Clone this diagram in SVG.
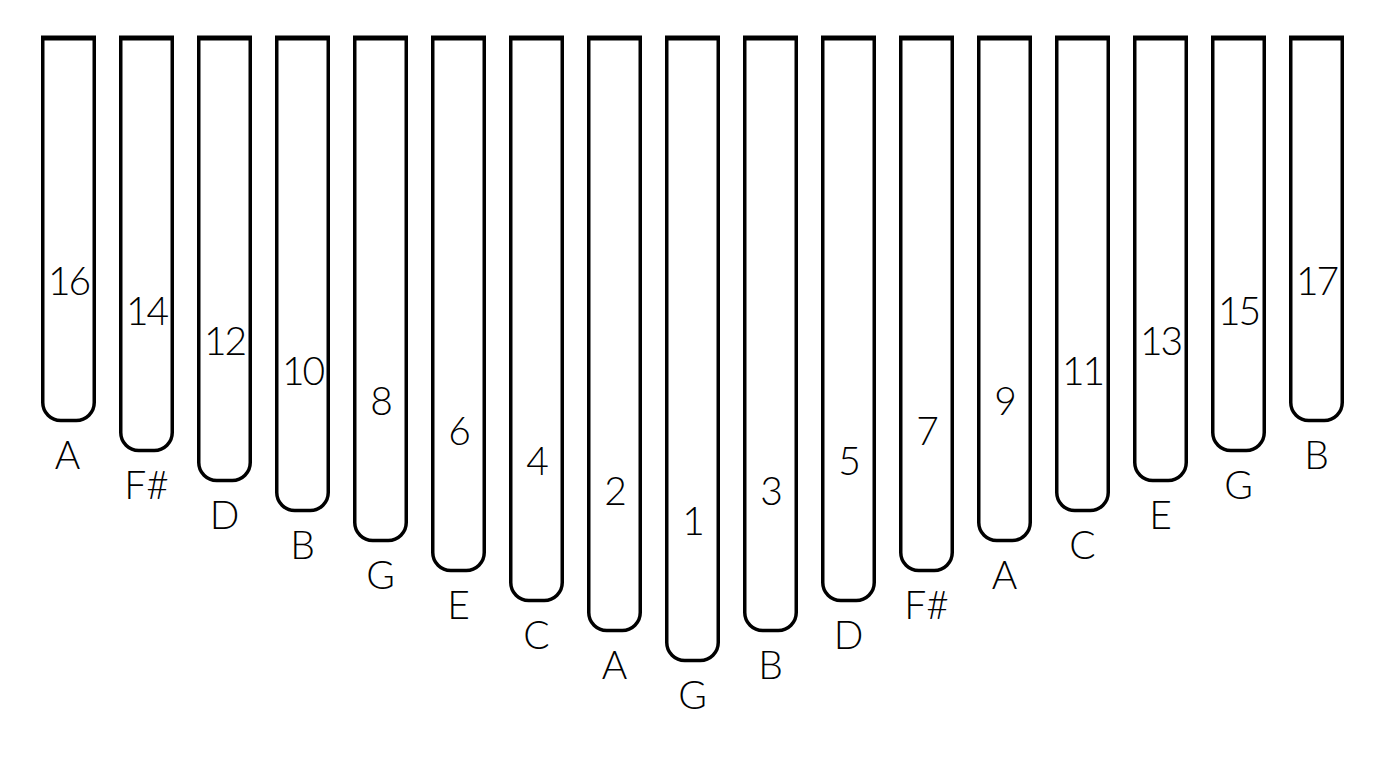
<svg xmlns="http://www.w3.org/2000/svg" width="1387" height="763" viewBox="0 0 1387 763">
<style>
.tine{fill:#fff;stroke:#000;stroke-width:3.5;stroke-linejoin:round}
.top{stroke:#000;stroke-width:5}
.num,.note{font-family:Lato,"Noto Sans","Liberation Sans",sans-serif;font-weight:300;font-size:39px;fill:#000;text-anchor:middle}
.num{letter-spacing:-2px}
</style>
<rect width="1387" height="763" fill="#fff"/>
<g id="tine16" transform="translate(68.5,0)"><path class="tine" d="M-25.75 38 V402.5 A18 18 0 0 0 -7.75 420.5 H7.75 A18 18 0 0 0 25.75 402.5 V38 Z"/><line class="top" x1="-27.5" y1="38" x2="27.5" y2="38"/><text class="num" x="0" y="294.5">16</text><text class="note" x="-1" y="468.5">A</text></g>
<g id="tine14" transform="translate(146.5,0)"><path class="tine" d="M-25.75 38 V432.5 A18 18 0 0 0 -7.75 450.5 H7.75 A18 18 0 0 0 25.75 432.5 V38 Z"/><line class="top" x1="-27.5" y1="38" x2="27.5" y2="38"/><text class="num" x="0" y="324.5">14</text><text class="note" x="0" y="498.5">F#</text></g>
<g id="tine12" transform="translate(224.5,0)"><path class="tine" d="M-25.75 38 V462.5 A18 18 0 0 0 -7.75 480.5 H7.75 A18 18 0 0 0 25.75 462.5 V38 Z"/><line class="top" x1="-27.5" y1="38" x2="27.5" y2="38"/><text class="num" x="0" y="354.5">12</text><text class="note" x="0" y="528.5">D</text></g>
<g id="tine10" transform="translate(302.5,0)"><path class="tine" d="M-25.75 38 V492.5 A18 18 0 0 0 -7.75 510.5 H7.75 A18 18 0 0 0 25.75 492.5 V38 Z"/><line class="top" x1="-27.5" y1="38" x2="27.5" y2="38"/><text class="num" x="0" y="384.5">10</text><text class="note" x="0" y="558.5">B</text></g>
<g id="tine8" transform="translate(380.5,0)"><path class="tine" d="M-25.75 38 V522.5 A18 18 0 0 0 -7.75 540.5 H7.75 A18 18 0 0 0 25.75 522.5 V38 Z"/><line class="top" x1="-27.5" y1="38" x2="27.5" y2="38"/><text class="num" x="0" y="414.5">8</text><text class="note" x="0" y="588.5">G</text></g>
<g id="tine6" transform="translate(458.5,0)"><path class="tine" d="M-25.75 38 V552.5 A18 18 0 0 0 -7.75 570.5 H7.75 A18 18 0 0 0 25.75 552.5 V38 Z"/><line class="top" x1="-27.5" y1="38" x2="27.5" y2="38"/><text class="num" x="0" y="444.5">6</text><text class="note" x="0" y="618.5">E</text></g>
<g id="tine4" transform="translate(536.5,0)"><path class="tine" d="M-25.75 38 V582.5 A18 18 0 0 0 -7.75 600.5 H7.75 A18 18 0 0 0 25.75 582.5 V38 Z"/><line class="top" x1="-27.5" y1="38" x2="27.5" y2="38"/><text class="num" x="0" y="474.5">4</text><text class="note" x="0" y="648.5">C</text></g>
<g id="tine2" transform="translate(614.5,0)"><path class="tine" d="M-25.75 38 V612.5 A18 18 0 0 0 -7.75 630.5 H7.75 A18 18 0 0 0 25.75 612.5 V38 Z"/><line class="top" x1="-27.5" y1="38" x2="27.5" y2="38"/><text class="num" x="0" y="504.5">2</text><text class="note" x="0" y="678.5">A</text></g>
<g id="tine1" transform="translate(692.5,0)"><path class="tine" d="M-25.75 38 V642.5 A18 18 0 0 0 -7.75 660.5 H7.75 A18 18 0 0 0 25.75 642.5 V38 Z"/><line class="top" x1="-27.5" y1="38" x2="27.5" y2="38"/><text class="num" x="0" y="534.5">1</text><text class="note" x="0" y="708.5">G</text></g>
<g id="tine3" transform="translate(770.5,0)"><path class="tine" d="M-25.75 38 V612.5 A18 18 0 0 0 -7.75 630.5 H7.75 A18 18 0 0 0 25.75 612.5 V38 Z"/><line class="top" x1="-27.5" y1="38" x2="27.5" y2="38"/><text class="num" x="0" y="504.5">3</text><text class="note" x="0" y="678.5">B</text></g>
<g id="tine5" transform="translate(848.5,0)"><path class="tine" d="M-25.75 38 V582.5 A18 18 0 0 0 -7.75 600.5 H7.75 A18 18 0 0 0 25.75 582.5 V38 Z"/><line class="top" x1="-27.5" y1="38" x2="27.5" y2="38"/><text class="num" x="0" y="474.5">5</text><text class="note" x="0" y="648.5">D</text></g>
<g id="tine7" transform="translate(926.5,0)"><path class="tine" d="M-25.75 38 V552.5 A18 18 0 0 0 -7.75 570.5 H7.75 A18 18 0 0 0 25.75 552.5 V38 Z"/><line class="top" x1="-27.5" y1="38" x2="27.5" y2="38"/><text class="num" x="0" y="444.5">7</text><text class="note" x="0" y="618.5">F#</text></g>
<g id="tine9" transform="translate(1004.5,0)"><path class="tine" d="M-25.75 38 V522.5 A18 18 0 0 0 -7.75 540.5 H7.75 A18 18 0 0 0 25.75 522.5 V38 Z"/><line class="top" x1="-27.5" y1="38" x2="27.5" y2="38"/><text class="num" x="0" y="414.5">9</text><text class="note" x="0" y="588.5">A</text></g>
<g id="tine11" transform="translate(1082.5,0)"><path class="tine" d="M-25.75 38 V492.5 A18 18 0 0 0 -7.75 510.5 H7.75 A18 18 0 0 0 25.75 492.5 V38 Z"/><line class="top" x1="-27.5" y1="38" x2="27.5" y2="38"/><text class="num" x="0" y="384.5">11</text><text class="note" x="0" y="558.5">C</text></g>
<g id="tine13" transform="translate(1160.5,0)"><path class="tine" d="M-25.75 38 V462.5 A18 18 0 0 0 -7.75 480.5 H7.75 A18 18 0 0 0 25.75 462.5 V38 Z"/><line class="top" x1="-27.5" y1="38" x2="27.5" y2="38"/><text class="num" x="0" y="354.5">13</text><text class="note" x="0" y="528.5">E</text></g>
<g id="tine15" transform="translate(1238.5,0)"><path class="tine" d="M-25.75 38 V432.5 A18 18 0 0 0 -7.75 450.5 H7.75 A18 18 0 0 0 25.75 432.5 V38 Z"/><line class="top" x1="-27.5" y1="38" x2="27.5" y2="38"/><text class="num" x="0" y="324.5">15</text><text class="note" x="0" y="498.5">G</text></g>
<g id="tine17" transform="translate(1316.5,0)"><path class="tine" d="M-25.75 38 V402.5 A18 18 0 0 0 -7.75 420.5 H7.75 A18 18 0 0 0 25.75 402.5 V38 Z"/><line class="top" x1="-27.5" y1="38" x2="27.5" y2="38"/><text class="num" x="0" y="294.5">17</text><text class="note" x="0" y="468.5">B</text></g>
<g id="connectors"></g>
</svg>
